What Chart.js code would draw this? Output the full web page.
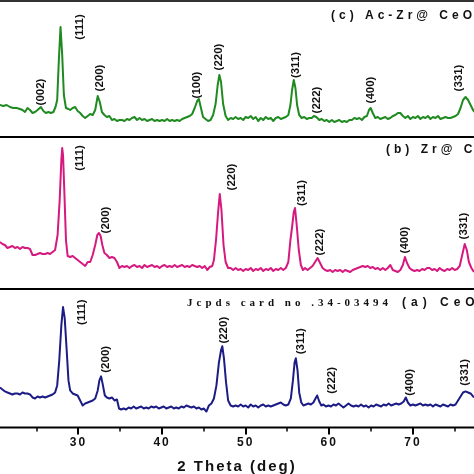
<!DOCTYPE html>
<html><head><meta charset="utf-8">
<script src="https://cdn.jsdelivr.net/npm/chart.js@4.4.1/dist/chart.umd.min.js"></script>
<style>
html,body{margin:0;padding:0;background:#fff;width:474px;height:474px;overflow:hidden}
.p{position:absolute;left:0;width:474px}
canvas{display:block}
</style></head><body>
<div class="p" style="top:0;height:139px"><canvas id="cC" width="474" height="139"></canvas></div>
<div class="p" style="top:137px;height:153px"><canvas id="cB" width="474" height="153"></canvas></div>
<div class="p" style="top:288px;height:186px"><canvas id="cA" width="474" height="186"></canvas></div>
<script>
// 2-theta range visible in the (cropped) figure
const X_MIN = 20.61, X_MAX = 77.31;
const xTickValues = [25,30,35,40,45,50,55,60,65,70,75];

// (c) Ac-Zr@CeO2 : [2theta, intensity a.u.]
const seriesC = [[20.6,32],[21.0,31],[21.4,32],[21.8,30],[22.2,29],[22.6,29],[23.0,28],[23.3,27],[23.6,25],[23.9,29],[24.2,27],[24.5,24],[24.8,25],[25.1,27],[25.5,30],[25.8,26],[26.1,24],[26.4,25],[26.7,24],[27.0,25],[27.25,30],[27.45,37],[27.65,77],[27.85,110],[28.05,82],[28.25,42],[28.5,29],[28.8,28],[29.0,27],[29.3,29],[29.6,30],[29.9,26],[30.2,24],[30.5,21],[30.8,19],[31.1,21],[31.4,23],[31.7,22],[32.0,27],[32.3,41],[32.55,35],[32.8,25],[33.1,22],[33.4,20],[33.7,21],[34.0,17],[34.3,18],[34.6,16],[34.9,17],[35.2,17],[35.5,16],[35.8,18],[36.1,17],[36.4,19],[36.7,20],[37.0,17],[37.3,19],[37.6,17],[37.9,18],[38.2,16],[38.5,17],[38.8,18],[39.1,16],[39.4,17],[39.7,16],[40.0,17],[40.3,16],[40.6,18],[40.9,16],[41.2,17],[41.5,16],[41.8,17],[42.1,16],[42.4,18],[42.7,19],[43.0,20],[43.3,21],[43.6,23],[43.9,29],[44.2,36],[44.4,38],[44.65,29],[44.9,20],[45.2,18],[45.5,16],[45.8,17],[46.1,22],[46.4,33],[46.65,52],[46.85,62],[47.05,55],[47.3,33],[47.6,21],[47.9,17],[48.2,19],[48.5,18],[48.8,20],[49.1,18],[49.4,19],[49.7,17],[50.0,20],[50.3,19],[50.6,21],[50.9,18],[51.2,20],[51.5,16],[51.8,19],[52.1,17],[52.4,20],[52.7,18],[53.0,19],[53.3,16],[53.6,19],[53.9,20],[54.2,18],[54.5,19],[54.8,20],[55.1,22],[55.35,32],[55.55,47],[55.75,57],[55.95,49],[56.15,32],[56.4,22],[56.7,19],[57.0,20],[57.3,18],[57.6,19],[57.9,19],[58.15,21],[58.45,20],[58.8,17],[59.1,18],[59.4,16],[59.7,17],[60.0,15],[60.3,17],[60.6,15],[60.9,16],[61.2,17],[61.5,15],[61.8,16],[62.1,15],[62.4,17],[62.7,17],[63.0,19],[63.3,18],[63.6,19],[63.9,17],[64.2,20],[64.5,21],[64.75,27],[64.95,29],[65.2,24],[65.5,19],[65.8,20],[66.1,18],[66.4,19],[66.7,20],[67.0,18],[67.3,19],[67.6,21],[67.9,22],[68.2,24],[68.5,24],[68.8,21],[69.1,19],[69.4,21],[69.7,18],[70.0,20],[70.3,19],[70.6,21],[70.9,18],[71.2,20],[71.5,19],[71.8,21],[72.1,18],[72.4,20],[72.7,19],[73.0,21],[73.3,18],[73.6,19],[73.9,20],[74.2,19],[74.5,19],[74.8,20],[75.1,21],[75.4,23],[75.7,29],[76.0,37],[76.3,40],[76.6,37],[76.9,32],[77.2,27],[77.4,25]];

// (b) Zr@CeO2
const seriesB = [[20.6,47],[20.9,45],[21.2,44],[21.5,41],[21.8,42],[22.1,43],[22.4,41],[22.7,42],[23.0,40],[23.3,42],[23.6,41],[23.9,41],[24.2,40],[24.5,34],[24.8,34],[25.1,35],[25.4,36],[25.7,35],[26.0,35],[26.3,36],[26.6,35],[26.9,37],[27.2,39],[27.5,54],[27.75,89],[27.95,129],[28.05,141],[28.15,134],[28.3,99],[28.5,49],[28.7,33],[29.0,32],[29.3,33],[29.6,31],[29.9,29],[30.2,27],[30.5,25],[30.8,23],[31.1,27],[31.4,27],[31.7,34],[32.0,44],[32.25,54],[32.45,56],[32.65,53],[32.85,44],[33.1,36],[33.4,34],[33.7,31],[34.0,32],[34.3,31],[34.6,27],[34.9,21],[35.2,23],[35.5,22],[35.8,23],[36.1,21],[36.4,23],[36.7,24],[37.0,22],[37.3,23],[37.6,21],[37.9,24],[38.2,22],[38.5,23],[38.8,24],[39.1,22],[39.4,23],[39.7,21],[40.0,23],[40.3,24],[40.6,22],[40.9,23],[41.2,22],[41.5,24],[41.8,22],[42.1,23],[42.4,24],[42.7,22],[43.0,23],[43.3,22],[43.6,24],[43.9,23],[44.2,22],[44.5,23],[44.8,21],[45.1,23],[45.4,19],[45.7,22],[46.0,23],[46.2,29],[46.45,49],[46.7,77],[46.9,95],[47.1,79],[47.35,44],[47.6,27],[47.9,21],[48.2,21],[48.5,19],[48.8,21],[49.1,19],[49.4,20],[49.7,18],[50.0,20],[50.3,19],[50.6,21],[50.9,18],[51.2,20],[51.5,19],[51.8,21],[52.1,18],[52.4,20],[52.7,19],[53.0,21],[53.3,18],[53.6,20],[53.9,19],[54.2,21],[54.5,19],[54.8,21],[55.1,27],[55.35,49],[55.55,62],[55.75,77],[55.9,81],[56.1,64],[56.35,39],[56.6,24],[56.85,19],[57.1,21],[57.4,19],[57.7,21],[58.0,23],[58.3,27],[58.6,31],[58.9,26],[59.2,21],[59.5,19],[59.8,18],[60.1,19],[60.4,17],[60.7,19],[61.0,18],[61.3,19],[61.6,17],[61.9,19],[62.2,18],[62.5,17],[62.8,19],[63.1,20],[63.4,21],[63.7,22],[64.0,23],[64.3,22],[64.6,23],[64.9,21],[65.2,22],[65.5,20],[65.8,21],[66.1,19],[66.4,21],[66.7,19],[67.0,21],[67.3,24],[67.6,19],[67.9,18],[68.2,17],[68.5,19],[68.8,24],[69.05,32],[69.3,26],[69.6,21],[69.9,19],[70.2,18],[70.5,19],[70.8,18],[71.1,20],[71.4,19],[71.7,21],[72.0,21],[72.3,19],[72.6,20],[72.9,18],[73.2,21],[73.5,19],[73.8,18],[74.1,20],[74.4,19],[74.7,21],[75.0,19],[75.3,20],[75.6,23],[75.9,34],[76.2,45],[76.45,39],[76.7,27],[77.0,21],[77.3,17]];

// (a) CeO2
const seriesA = [[20.6,40],[20.9,38],[21.2,36],[21.5,35],[21.8,34],[22.1,33],[22.4,34],[22.7,34],[23.0,33],[23.3,35],[23.6,34],[23.9,34],[24.2,33],[24.5,30],[24.8,29],[25.1,31],[25.4,30],[25.7,31],[26.0,30],[26.3,31],[26.6,32],[26.9,33],[27.2,35],[27.45,42],[27.7,67],[27.95,102],[28.15,120],[28.35,109],[28.55,82],[28.8,47],[29.0,37],[29.3,34],[29.6,33],[29.9,32],[30.2,27],[30.5,22],[30.8,24],[31.1,25],[31.4,26],[31.7,27],[32.0,29],[32.3,37],[32.5,47],[32.7,51],[32.9,43],[33.15,32],[33.4,30],[33.7,29],[34.0,30],[34.3,27],[34.6,28],[34.85,19],[35.1,18],[35.4,19],[35.7,18],[36.0,20],[36.3,19],[36.6,21],[36.9,19],[37.2,20],[37.5,21],[37.8,19],[38.1,20],[38.4,19],[38.7,21],[39.0,20],[39.3,21],[39.6,19],[39.9,20],[40.2,21],[40.5,19],[40.8,20],[41.1,21],[41.4,19],[41.7,20],[42.0,19],[42.3,21],[42.6,20],[42.9,22],[43.2,21],[43.5,20],[43.8,21],[44.1,19],[44.4,20],[44.7,18],[45.0,19],[45.3,16],[45.6,22],[45.9,24],[46.2,29],[46.5,42],[46.8,65],[47.05,77],[47.2,81],[47.4,69],[47.65,45],[47.9,27],[48.2,22],[48.5,21],[48.8,22],[49.1,21],[49.4,23],[49.7,21],[50.0,22],[50.3,20],[50.6,23],[50.9,21],[51.2,22],[51.5,20],[51.8,22],[52.1,23],[52.4,21],[52.7,22],[53.0,21],[53.3,22],[53.6,23],[53.9,24],[54.2,25],[54.5,23],[54.8,22],[55.1,23],[55.4,29],[55.65,47],[55.85,65],[56.0,69],[56.2,57],[56.4,35],[56.65,25],[56.9,22],[57.2,23],[57.5,24],[57.8,23],[58.1,25],[58.35,29],[58.55,32],[58.8,26],[59.05,22],[59.3,23],[59.6,21],[59.9,22],[60.2,21],[60.5,23],[60.8,22],[61.1,24],[61.4,22],[61.7,20],[62.0,22],[62.3,24],[62.6,22],[62.9,21],[63.2,22],[63.5,21],[63.8,23],[64.1,21],[64.4,22],[64.7,20],[65.0,22],[65.3,21],[65.6,23],[65.9,22],[66.2,21],[66.5,23],[66.8,22],[67.1,24],[67.4,22],[67.7,23],[68.0,24],[68.3,23],[68.6,24],[68.9,26],[69.15,30],[69.4,25],[69.7,22],[70.0,23],[70.3,22],[70.6,23],[70.9,24],[71.2,22],[71.5,23],[71.8,22],[72.1,23],[72.4,21],[72.7,23],[73.0,22],[73.3,21],[73.6,23],[73.9,22],[74.2,21],[74.5,23],[74.8,22],[75.1,23],[75.4,27],[75.7,31],[76.0,35],[76.3,36],[76.6,35],[76.9,34],[77.3,30]];

// peak (hkl) annotations: label, 2theta, intensity
const hklC = ['(002)','(111)','(200)','(100)','(220)','(311)','(222)','(400)','(331)'];
const hklThetaC = [25.51,30.18,32.57,44.17,46.81,56.02,58.53,64.99,75.51];
const hklIntC = [45,110,59,52,80,72,37,47,59];

const hklB = ['(111)','(200)','(220)','(311)','(222)','(400)','(331)'];
const hklThetaB = [30.18,33.29,48.36,56.73,58.89,69.05,76.11];
const hklIntB = [131,69,112,96,47,49,63];

const hklA = ['(111)','(200)','(220)','(311)','(222)','(400)','(331)'];
const hklThetaA = [30.42,33.29,47.40,56.61,60.32,69.65,76.23];
const hklIntA = [115,68,97,86,47,45,55];

const SANS = "'Liberation Sans', Arial, sans-serif";
const SERIF = "'Liberation Serif', 'Times New Roman', serif";

function deco(cfg){
  return {
    id: 'deco',
    beforeDraw(chart){ chart.ctx.letterSpacing = cfg.bottom ? '2px' : '0px'; },
    afterDraw(chart){
      const ctx = chart.ctx, a = chart.chartArea, xs = chart.scales.x, ys = chart.scales.y;
      ctx.save();
      ctx.letterSpacing = '0px';
      if (cfg.top){
        ctx.strokeStyle = '#333'; ctx.lineWidth = 2;
        ctx.beginPath(); ctx.moveTo(0, a.top); ctx.lineTo(chart.width, a.top); ctx.stroke();
      }
      ctx.strokeStyle = '#000'; ctx.lineWidth = 2;
      ctx.beginPath(); ctx.moveTo(0, a.bottom); ctx.lineTo(chart.width, a.bottom); ctx.stroke();
      if (cfg.bottom){
        xTickValues.forEach(v => {
          const px = Math.round(xs.getPixelForValue(v));
          const major = v % 10 === 0;
          ctx.lineWidth = major ? 2 : 1.5;
          ctx.beginPath(); ctx.moveTo(px, a.bottom); ctx.lineTo(px, a.bottom + (major ? 7 : 4)); ctx.stroke();
        });
      }
      ctx.fillStyle = '#111';
      ctx.font = 'bold 11.5px ' + SANS;
      ctx.textAlign = 'center'; ctx.textBaseline = 'middle';
      cfg.hkl.forEach((t, i) => {
        ctx.save();
        ctx.translate(xs.getPixelForValue(cfg.th[i]), ys.getPixelForValue(cfg.it[i]));
        ctx.rotate(-Math.PI / 2);
        ctx.fillText(t, 0, 0);
        ctx.restore();
      });
      cfg.notes.forEach(n => {
        ctx.font = n.font; ctx.letterSpacing = n.ls;
        ctx.textAlign = 'left'; ctx.textBaseline = 'middle';
        ctx.fillText(n.text, xs.getPixelForValue(n.x), ys.getPixelForValue(n.y));
      });
      ctx.restore();
    }
  };
}

function panel(id, series, color, yMax, padding, cfg){
  const xScale = cfg.bottom ? {
    type: 'linear', min: X_MIN, max: X_MAX,
    grid: { display: false, drawTicks: false }, border: { display: false },
    ticks: { stepSize: 5, includeBounds: false, autoSkip: false, maxRotation: 0, padding: 8,
      color: '#111', font: { family: SANS, size: 12, weight: 'bold' },
      callback: v => (v % 10 === 0 ? String(v) : '') },
    title: { display: true, text: '2 Theta (deg)', color: '#111',
      font: { family: SANS, size: 15, weight: 'bold' }, padding: { top: 0, bottom: 0 } }
  } : { type: 'linear', min: X_MIN, max: X_MAX, display: false };
  new Chart(document.getElementById(id), {
    type: 'line',
    data: { datasets: [{
      data: series.map(p => ({ x: p[0], y: p[1] })),
      borderColor: color, borderWidth: 2, pointRadius: 0, tension: 0,
      borderJoinStyle: 'round', fill: false
    }] },
    options: {
      responsive: false, animation: false, events: [],
      layout: { padding: padding },
      plugins: { legend: { display: false }, tooltip: { enabled: false } },
      scales: { x: xScale, y: { type: 'linear', min: 0, max: yMax, display: false } }
    },
    plugins: [deco(cfg)]
  });
}

panel('cC', seriesC, '#1f8a1f', 136, { top: 1, bottom: 2, left: 0, right: 0 }, {
  top: true, bottom: false, hkl: hklC, th: hklThetaC, it: hklIntC,
  notes: [{ text: '(c) Ac-Zr@ CeO\u2082', x: 60.2, y: 121, font: 'bold 12px ' + SANS, ls: '4px' }]
});
panel('cB', seriesB, '#d6197f', 152, { top: 0, bottom: 1, left: 0, right: 0 }, {
  top: false, bottom: false, hkl: hklB, th: hklThetaB, it: hklIntB,
  notes: [{ text: '(b) Zr@ CeO\u2082', x: 66.78, y: 139, font: 'bold 12px ' + SANS, ls: '4px' }]
});
panel('cA', seriesA, '#1c1c86', 138, { top: 1, bottom: -2, left: 0, right: 0 }, {
  top: false, bottom: true, hkl: hklA, th: hklThetaA, it: hklIntA,
  notes: [
    { text: 'Jcpds card no .34-03494', x: 42.98, y: 124, font: 'bold 11px ' + SERIF, ls: '4px' },
    { text: '(a) CeO\u2082', x: 68.7, y: 124, font: 'bold 12px ' + SANS, ls: '5px' }
  ]
});
</script>
</body></html>
